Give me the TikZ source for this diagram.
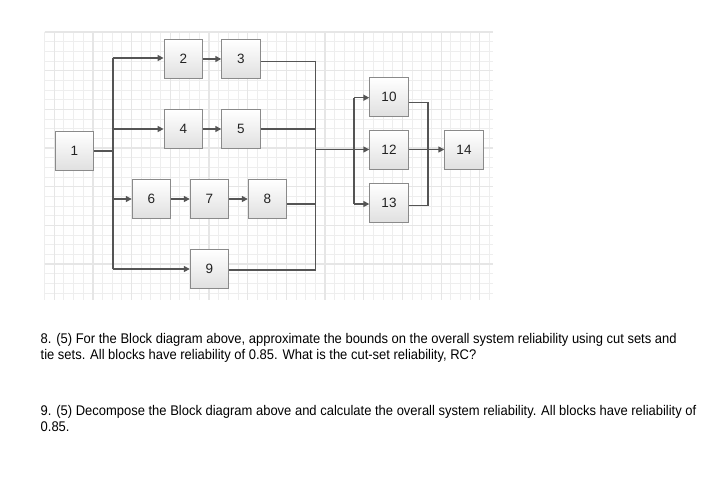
\documentclass[tikz,border=0pt]{standalone}
\usepackage{fontspec}
\setmainfont{Liberation Sans}
\usetikzlibrary{arrows.meta}
\definecolor{gridminor}{HTML}{EEEEEE}
\definecolor{gridmajor}{HTML}{E6E6E6}
\definecolor{wire}{HTML}{555555}
\definecolor{boxborder}{HTML}{8A8A8A}
\definecolor{boxbottom}{HTML}{E0E0E0}
\definecolor{labeltext}{HTML}{222222}
\newlength\qlw
\newcommand\qfont{\fontsize{14pt}{17pt}\selectfont}
\newcommand\qlineone{8. (5) For the Block diagram above, approximate the bounds on the overall system reliability using cut sets and}
\begin{document}
\settowidth\qlw{\qfont\qlineone}
\pgfmathsetmacro\qxs{636/\qlw}
\begin{tikzpicture}[x=1pt,y=-1pt,
  blockbox/.style={draw=boxborder, line width=0.9pt, top color=white, bottom color=boxbottom,
    minimum width=38.5pt, minimum height=38.5pt, inner sep=0pt,
    font=\fontsize{13.5pt}{15pt}\selectfont, text=labeltext},
  wireline/.style={draw=wire, line width=1.4pt},
  arrowline/.style={wireline, -{Triangle[length=6pt,width=6pt]}},
  qline/.style={anchor=base west, inner sep=0pt}]
% canvas
\fill[white] (0,0) rectangle (718,491);
\useasboundingbox (0,0) rectangle (718,491);
% grid
\foreach \k in {0,...,46} {
  \pgfmathsetmacro\gx{44.6+9.67*\k}
  \ifdim\gx pt<493pt
    \draw[gridminor, line width=1pt] (\gx,32) -- (\gx,300);
  \fi
}
\foreach \k in {0,...,27} {
  \pgfmathsetmacro\gy{32+9.67*\k}
  \draw[gridminor, line width=1pt] (44.6,\gy) -- (492.7,\gy);
}
\foreach \m in {0,...,11} {
  \pgfmathsetmacro\gx{54.3+38.68*\m}
  \draw[gridmajor, line width=1.2pt] (\gx,32) -- (\gx,300);
}
\foreach \m in {0,...,6} {
  \pgfmathsetmacro\gy{32+38.68*\m}
  \draw[gridmajor, line width=1.2pt] (44.6,\gy) -- (492.7,\gy);
}
% blocks
\node[blockbox] (b1)  at (74.5,151)  {1};
\node[blockbox] (b2)  at (183.3,59)  {2};
\node[blockbox] (b3)  at (241,59)    {3};
\node[blockbox] (b4)  at (183.3,129) {4};
\node[blockbox] (b5)  at (241,129)   {5};
\node[blockbox] (b6)  at (151.5,199) {6};
\node[blockbox] (b7)  at (209.5,199) {7};
\node[blockbox] (b8)  at (267.5,199) {8};
\node[blockbox] (b9)  at (209.5,269) {9};
\node[blockbox] (b10) at (389,97)    {10};
\node[blockbox] (b12) at (389,150)   {12};
\node[blockbox] (b13) at (389,203)   {13};
\node[blockbox] (b14) at (464,150)   {14};
% junction coordinates
\coordinate (sA) at (113,151);
\coordinate (sT) at (113,58);
\coordinate (s4) at (113,129);
\coordinate (s6) at (113,199);
\coordinate (sB) at (113,269);
\coordinate (cT) at (315.5,61.7);
\coordinate (c5) at (315.5,129);
\coordinate (c8) at (315.5,204);
\coordinate (cB) at (315.5,270);
\coordinate (cO) at (315.5,149.5);
\coordinate (dT) at (354,97.7);
\coordinate (dB) at (354,204);
\coordinate (eT) at (428,102.7);
\coordinate (eB) at (428,205.7);
% wiring
\draw[wireline] (b1.east) -- (sA);
\draw[wireline] (sT) -- (sB);
\draw[arrowline] (sT) -- (b2.west |- sT);
\draw[arrowline] (s4) -- (b4.west |- s4);
\draw[arrowline] (s6) -- (b6.west |- s6);
\draw[arrowline] (sB) -- (b9.west |- sB);
\draw[arrowline] (b2) -- (b3);
\draw[arrowline] (b4) -- (b5);
\draw[arrowline] (b6) -- (b7);
\draw[arrowline] (b7) -- (b8);
\draw[wireline] (b3.east |- cT) -- (cT);
\draw[wireline] (b5.east |- c5) -- (c5);
\draw[wireline] (b8.east |- c8) -- (c8);
\draw[wireline] (b9.east |- cB) -- (cB);
\draw[wireline] (cT) -- (cB);
\draw[arrowline] (cO) -- (b12.west |- cO);
\draw[wireline] (dT) -- (dB);
\draw[arrowline] (dT) -- (b10.west |- dT);
\draw[arrowline] (dB) -- (b13.west |- dB);
\draw[wireline] (b10.east |- eT) -- (eT) -- (eB) -- (b13.east |- eB);
\draw[arrowline] (b12.east |- cO) -- (b14.west |- cO);
% questions
\node[qline] (q1) at (40.5,343.5) {\scalebox{\qxs}[1]{\qfont\qlineone}};
\node[qline] (q2) at (40.5,359.5) {\scalebox{\qxs}[1]{\qfont tie sets. All blocks have reliability of 0.85. What is the cut-set reliability, RC?}};
\node[qline] (q3) at (40.5,415) {\scalebox{\qxs}[1]{\qfont 9. (5) Decompose the Block diagram above and calculate the overall system reliability. All blocks have reliability of}};
\node[qline] (q4) at (40.5,431) {\scalebox{\qxs}[1]{\qfont 0.85.}};
\end{tikzpicture}
\end{document}
